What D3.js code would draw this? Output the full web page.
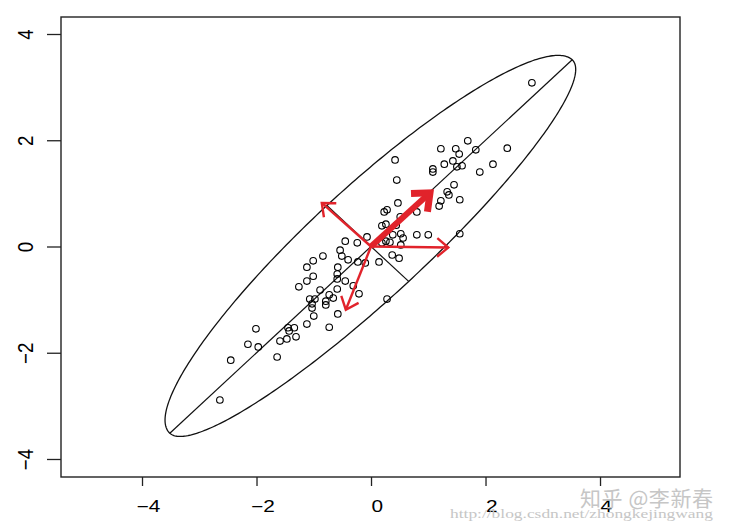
<!DOCTYPE html>
<html>
<head>
<meta charset="utf-8">
<script src="https://cdn.jsdelivr.net/npm/d3@7"></script>
<style>
body { margin: 0; background: #fff; }
</style>
</head>
<body>
<div id="chart"></div>
<script>
// scatter points (x1, x2)
const pointX = [2.81, 1.69, 1.22, 1.48, 1.54, 1.83, 2.38, 0.42, 1.08, 1.08, 1.28, 1.43, 1.50, 1.59, 2.13, 1.90,
  0.45, 1.45, 1.33, 1.36, 1.22, 1.55, 1.19, 0.47, 0.28, 0.23, 0.80, 0.51, 0.26, 0.19, 0.44, 0.38, 0.52, 0.56,
  0.80, 1.00, 1.55, 0.33, 0.26, 0.19, 0.52, 0.37, 0.49, -0.45, -0.24, -0.07, -0.84, -0.54, -0.51, -0.40, -1.01,
  -1.12, -0.58, -0.23, -0.10, 0.14, -0.59, -0.59, -1.01, -1.12, -0.45, -1.26, -0.89, -0.59, -0.31, -0.73, -0.66,
  -1.07, -0.98, -0.79, -1.03, -0.79, -1.03, -0.21, -0.58, -1.00, -1.12, -0.73, -2.01, -1.45, -1.43, -1.34, -1.31,
  -1.47, -1.59, -2.15, -1.97, -1.64, -2.45, -2.64, 0.28];
const pointY = [3.08, 1.99, 1.84, 1.84, 1.74, 1.82, 1.85, 1.63, 1.46, 1.40, 1.55, 1.61, 1.50, 1.52, 1.55, 1.40,
  1.25, 1.16, 1.03, 0.97, 0.86, 0.88, 0.76, 0.82, 0.69, 0.65, 0.65, 0.56, 0.42, 0.39, 0.40, 0.22, 0.24, 0.16,
  0.22, 0.22, 0.24, 0.08, 0.10, 0.07, 0.03, -0.16, -0.22, 0.10, 0.07, 0.18, -0.18, -0.07, -0.18, -0.25, -0.27,
  -0.39, -0.39, -0.29, -0.31, -0.29, -0.52, -0.61, -0.56, -0.65, -0.65, -0.76, -0.82, -0.80, -0.74, -0.91, -0.97,
  -0.99, -0.99, -1.03, -1.08, -1.10, -1.16, -0.89, -1.27, -1.31, -1.46, -1.52, -1.55, -1.53, -1.59, -1.53, -1.70,
  -1.74, -1.78, -1.84, -1.89, -2.08, -2.14, -2.89, -0.99];

const tickValues = [-4, -2, 0, 2, 4];

// ellipse: half axes along (1,1) and (-1,1)
const majorHalf = 4.97;
const minorUpper = 1.09;
const minorLower = 0.93;

// red direction arrows from the centre
const arrowX = [1.03, -0.86, 1.35, -0.44];
const arrowY = [1.01, 0.82, -0.02, -1.19];

var margin = {top: 17, right: 52, bottom: 52, left: 61},
    width = 619,
    height = 460;

var svg = d3.select("#chart")
  .append("svg")
  .attr("width", 732)
  .attr("height", 529);

var g = svg.append("g")
  .attr("transform", "translate(" + margin.left + "," + margin.top + ")");

var x = d3.scaleLinear().domain([-5.415, 5.397]).range([0, width]);
var y = d3.scaleLinear().domain([-4.339, 4.32]).range([height, 0]);

// axes
var xAxis = g.append("g")
  .attr("transform", "translate(0," + height + ")")
  .call(d3.axisBottom(x).tickValues(tickValues).tickSize(9).tickPadding(0).tickFormat(d3.format("d")));
xAxis.select(".domain").remove();
xAxis.selectAll("line").attr("stroke", "#222").attr("stroke-width", 1.3);
xAxis.selectAll("text")
  .attr("y", 35)
  .attr("dy", 0)
  .attr("dx", 4.5)
  .attr("transform", "scale(1.3,1)")
  .style("font-family", "'Liberation Sans', Arial, sans-serif")
  .style("font-size", "16px")
  .attr("fill", "#000");

var yAxis = g.append("g")
  .call(d3.axisLeft(y).tickValues(tickValues).tickSize(14).tickFormat(d3.format("d")));
yAxis.select(".domain").remove();
yAxis.selectAll("line").attr("stroke", "#222").attr("stroke-width", 1.3);
yAxis.selectAll("text")
  .attr("x", 0)
  .attr("dy", 0)
  .attr("text-anchor", "middle")
  .attr("transform", "translate(-28,0) rotate(-90) scale(1.1,1.3)")
  .style("font-family", "'Liberation Sans', Arial, sans-serif")
  .style("font-size", "17px")
  .attr("fill", "#000");

// frame
g.append("rect")
  .attr("width", width)
  .attr("height", height)
  .attr("fill", "none")
  .attr("stroke", "#222")
  .attr("stroke-width", 1.4);

// ellipse outline
var ts = d3.range(0, 2 * Math.PI + 0.001, Math.PI / 180);
var ell = ts.map(function(t) {
  var u = majorHalf * Math.cos(t);
  var s = Math.sin(t);
  var v = (s >= 0 ? minorUpper : minorLower) * s;
  return [(u - v) / Math.SQRT2, (u + v) / Math.SQRT2];
});
var line = d3.line().x(function(d) { return x(d[0]); }).y(function(d) { return y(d[1]); });
g.append("path")
  .attr("d", line(ell))
  .attr("fill", "none")
  .attr("stroke", "#111")
  .attr("stroke-width", 1.3);

// major and minor axes of the ellipse
var a = majorHalf / Math.SQRT2;
g.append("path")
  .attr("d", line([[-a, -a], [a, a]]))
  .attr("stroke", "#111").attr("stroke-width", 1.2).attr("fill", "none");
g.append("path")
  .attr("d", line([[-minorUpper / Math.SQRT2, minorUpper / Math.SQRT2], [minorLower / Math.SQRT2, -minorLower / Math.SQRT2]]))
  .attr("stroke", "#111").attr("stroke-width", 1.2).attr("fill", "none");

// points
g.append("g")
  .selectAll("circle")
  .data(pointX)
  .enter()
  .append("circle")
  .attr("cx", function(d) { return x(d); })
  .attr("cy", function(d, i) { return y(pointY[i]); })
  .attr("r", 3.3)
  .attr("fill", "none")
  .attr("stroke", "#000")
  .attr("stroke-width", 1.1);

// arrows
var red = "#e1232b";
arrowX.forEach(function(ax, i) {
  var x0 = x(0), y0 = y(0), x1 = x(ax), y1 = y(arrowY[i]);
  var thick = i === 0;
  var ang = Math.atan2(y1 - y0, x1 - x0);
  var arm = thick ? 19 : 14.5, spread = 40 * Math.PI / 180;
  var p1 = [x1 - arm * Math.cos(ang - spread), y1 - arm * Math.sin(ang - spread)];
  var p2 = [x1 - arm * Math.cos(ang + spread), y1 - arm * Math.sin(ang + spread)];
  g.append("path")
    .attr("d", "M" + x0 + "," + y0 + "L" + x1 + "," + y1)
    .attr("stroke", red).attr("stroke-width", thick ? 6 : 2.4).attr("fill", "none");
  g.append("path")
    .attr("d", "M" + p1 + "L" + x1 + "," + y1 + "L" + p2)
    .attr("stroke", red).attr("stroke-width", thick ? 7 : 2.4).attr("fill", "none")
    .attr("stroke-linejoin", "miter");
});

// watermark
svg.append("text")
  .attr("x", 580).attr("y", 506)
  .attr("textLength", 133)
  .style("font-family", "'Noto Sans CJK SC', sans-serif")
  .style("font-size", "21px")
  .attr("fill", "#c6c6c6")
  .text("知乎 @李新春");
svg.append("text")
  .attr("x", 450).attr("y", 518)
  .attr("textLength", 263)
  .attr("lengthAdjust", "spacingAndGlyphs")
  .style("font-family", "'Liberation Serif', serif")
  .style("font-size", "13px")
  .attr("fill", "#c6c6c6")
  .text("http://blog.csdn.net/zhongkejingwang");
</script>
</body>
</html>
